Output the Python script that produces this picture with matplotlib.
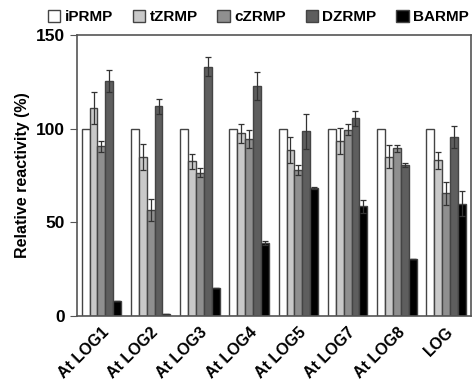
import matplotlib.pyplot as plt
import numpy as np

plt.rcParams['font.family'] = ['Liberation Sans', 'DejaVu Sans']
plt.rcParams['font.weight'] = 'bold'
plt.rcParams['axes.labelweight'] = 'bold'

groups = ["At LOG1", "At LOG2", "At LOG3", "At LOG4", "At LOG5", "At LOG7", "At LOG8", "LOG"]
series = ["iPRMP", "tZRMP", "cZRMP", "DZRMP", "BARMP"]

iprmp = [100, 100, 100, 100, 100, 100, 100, 100]
tzrmp = [111, 85, 82.5, 97.5, 88.5, 93.5, 85, 83]
czrmp = [90.5, 56.5, 76.5, 94.5, 78, 99.5, 89.5, 65.5]
dzrmp = [125.5, 112, 133, 122.5, 98.5, 105.5, 80.5, 95.5]
barmp = [8, 1, 15, 39, 68.5, 58.5, 30.5, 60]

iprmp_err = [0, 0, 0, 0, 0, 0, 0, 0]
tzrmp_err = [8.5, 7, 4, 5, 7, 7, 6, 4.5]
czrmp_err = [3, 6, 2.5, 5, 2.5, 3, 2, 6]
dzrmp_err = [6, 4, 5, 7.5, 9.5, 4, 1, 6]
barmp_err = [0, 0, 0, 1, 0.5, 3.5, 0, 6.5]

values = [iprmp, tzrmp, czrmp, dzrmp, barmp]
errors = [iprmp_err, tzrmp_err, czrmp_err, dzrmp_err, barmp_err]
colors = ["white", "#c9c9c9", "#8f8f8f", "#5e5e5e", "black"]

fig = plt.figure(figsize=(4.74, 3.87), dpi=100)
ax = fig.add_axes([0.162, 0.183, 0.831, 0.727])

x = np.arange(len(groups))
w = 0.16
for i, (vals, errs, c) in enumerate(zip(values, errors, colors)):
    pos = x - 0.32 + i * w
    yerr = None if max(errs) == 0 else errs
    ax.bar(pos, vals, w, color=c, edgecolor="#444444", linewidth=1.0,
           label=series[i], yerr=yerr,
           error_kw=dict(ecolor="#333333", elinewidth=0.9, capsize=2, capthick=0.9))

ax.set_xlim(-0.5, len(groups) - 0.5)
ax.set_ylim(0, 150)
ax.set_yticks([0, 50, 100, 150])
ax.set_xticks(x)
ax.set_xticklabels(groups, rotation=45, ha="right", rotation_mode="anchor", fontsize=11.5)
ax.tick_params(axis="x", length=0, pad=6)
ax.tick_params(axis="y", labelsize=12.5, length=5, color="#555555")
ax.set_ylabel("Relative reactivity (%)", fontsize=11.5)
for s in ax.spines.values():
    s.set_color("#555555")
    s.set_linewidth(1.2)

fig.legend(loc="upper center", bbox_to_anchor=(0.545, 1.01), ncol=5, frameon=False,
           fontsize=11, handlelength=0.8, handleheight=0.8, handletextpad=0.3,
           columnspacing=1.3)

fig.savefig("out.png", dpi=100)
